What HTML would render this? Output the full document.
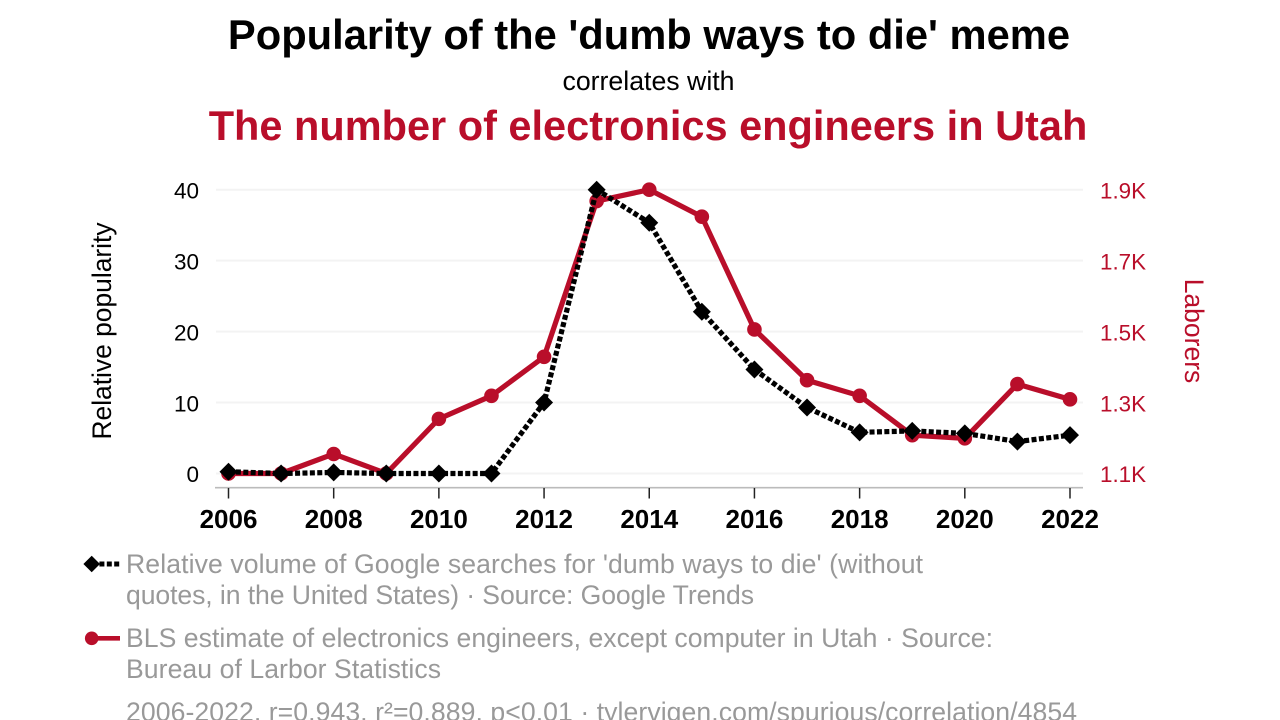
<!DOCTYPE html>
<html>
<head>
<meta charset="utf-8">
<style>
html,body{margin:0;padding:0;background:#fff;width:1280px;height:720px;overflow:hidden}
svg{display:block}
text{font-family:"Liberation Sans",Arial,sans-serif}
</style>
</head>
<body>
<svg id="chart" xmlns="http://www.w3.org/2000/svg" width="1280" height="720" viewBox="0 0 1280 720">
<rect width="1280" height="720" fill="#fff"/>
<text x="649" y="49" text-anchor="middle" font-size="41.7" font-weight="700" fill="#000">Popularity of the 'dumb ways to die' meme</text>
<text x="648.5" y="90" text-anchor="middle" font-size="26.7" fill="#000">correlates with</text>
<text x="648" y="140" text-anchor="middle" font-size="41.5" font-weight="700" fill="#b90e2a">The number of electronics engineers in Utah</text>
<g id="grid"></g>
<g id="xaxis"></g>
<g id="yleft"></g>
<g id="yright"></g>
<text transform="translate(111,331) rotate(-90)" text-anchor="middle" font-size="26.4" fill="#000">Relative popularity</text>
<text transform="translate(1185,331) rotate(90)" text-anchor="middle" font-size="26.5" fill="#b90e2a">Laborers</text>
<g id="marks-red"></g>
<g id="marks-black"></g>
<g>
<g>
<line x1="92" y1="564" x2="120" y2="564" stroke="#000" stroke-width="5" stroke-dasharray="5 2.4"/>
<polygon points="91.7,555.7 100,564 91.7,572.3 83.4,564" fill="#000"/>
<text x="126" y="573" font-size="26.6" fill="#999" textLength="797" lengthAdjust="spacing">Relative volume of Google searches for 'dumb ways to die' (without</text>
<text x="126" y="604" font-size="26.6" fill="#999" textLength="628" lengthAdjust="spacing">quotes, in the United States) · Source: Google Trends</text>
</g>
<g>
<line x1="92" y1="638.3" x2="120" y2="638.3" stroke="#b90e2a" stroke-width="4.6"/>
<circle cx="91.7" cy="638.3" r="6.8" fill="#b90e2a"/>
<text x="126" y="647" font-size="26.6" fill="#999" textLength="867" lengthAdjust="spacing">BLS estimate of electronics engineers, except computer in Utah · Source:</text>
<text x="126" y="678" font-size="26.6" fill="#999" textLength="315" lengthAdjust="spacing">Bureau of Larbor Statistics</text>
</g>
<text x="126" y="721" font-size="26.6" fill="#999" textLength="951" lengthAdjust="spacing">2006-2022, r=0.943, r²=0.889, p&lt;0.01 · tylervigen.com/spurious/correlation/4854</text>
</g>
</svg>
<script>
var years = [2006,2007,2008,2009,2010,2011,2012,2013,2014,2015,2016,2017,2018,2019,2020,2021,2022];
var popularity = [0.25,0,0.15,0,0,0,10,40,35.35,22.8,14.65,9.3,5.8,6,5.65,4.5,5.4];
var laborers = [1100,1100,1155,1100,1254,1319,1429,1868,1900,1824,1506,1363,1319,1208,1199,1352,1309];
var xTicks = [2006,2008,2010,2012,2014,2016,2018,2020,2022];
var leftTicks = [0,10,20,30,40];
var rightTicks = [1100,1300,1500,1700,1900];

var NS = 'http://www.w3.org/2000/svg';
var RED = '#b90e2a';
function xScale(v){ return 228.5 + (v - 2006) * (1070 - 228.5) / 16; }
function yLeft(v){ return 473.5 - v * (473.5 - 189.7) / 40; }
function yRight(v){ return 473.5 - (v - 1100) * (473.5 - 189.7) / 800; }
function make(parent, tag, attrs, txt){
  var el = document.createElementNS(NS, tag);
  for (var k in attrs) el.setAttribute(k, attrs[k]);
  if (txt !== undefined) el.textContent = txt;
  parent.appendChild(el);
  return el;
}
var grid = document.getElementById('grid');
var xaxis = document.getElementById('xaxis');
var yleft = document.getElementById('yleft');
var yright = document.getElementById('yright');
var redG = document.getElementById('marks-red');
var blackG = document.getElementById('marks-black');

leftTicks.forEach(function(t){
  var g = make(grid, 'line', {x1:216, x2:1083, y1:yLeft(t), y2:yLeft(t), stroke:'#f3f3f3', 'stroke-width':2});
  
  
  var l = make(yleft, 'text', {x:199, y:yLeft(t) + 8.7, 'text-anchor':'end', 'font-size':22.5, fill:'#000'}, String(t));
  
  
});
rightTicks.forEach(function(t){
  var l = make(yright, 'text', {x:1100, y:yRight(t) + 8.7, 'font-size':22.4, fill:RED}, (t / 1000).toFixed(1) + 'K');
  
  
});
var axisLine = make(xaxis, 'line', {x1:215, x2:1083, y1:487.7, y2:487.7, stroke:'#bbb', 'stroke-width':1.6});


xTicks.forEach(function(t){
  var m = make(xaxis, 'line', {x1:xScale(t), x2:xScale(t), y1:488, y2:498.5, stroke:'#222', 'stroke-width':1.5});
  
  
  var l = make(xaxis, 'text', {x:xScale(t), y:528, 'text-anchor':'middle', 'font-size':26, 'font-weight':700, fill:'#000'}, String(t));
  
  
});

var redLine = make(redG, 'polyline', {
  points: years.map(function(y,i){ return xScale(y) + ',' + yRight(laborers[i]); }).join(' '),
  fill:'none', stroke:RED, 'stroke-width':5.2, 'stroke-linejoin':'round'
});


years.forEach(function(y,i){
  var c = make(redG, 'circle', {cx:xScale(y), cy:yRight(laborers[i]), r:7.3, fill:RED});
  
  
});

var blackLine = make(blackG, 'polyline', {
  points: years.map(function(y,i){ return xScale(y) + ',' + yLeft(popularity[i]); }).join(' '),
  fill:'none', stroke:'#000', 'stroke-width':5.2, 'stroke-dasharray':'5 2.4'
});


years.forEach(function(y,i){
  var cx = xScale(y), cy = yLeft(popularity[i]), h = 9;
  var d = make(blackG, 'polygon', {points:[cx,cy-h,cx+h,cy,cx,cy+h,cx-h,cy].join(' '), fill:'#000'});
  
  
});
</script>
</body>
</html>
